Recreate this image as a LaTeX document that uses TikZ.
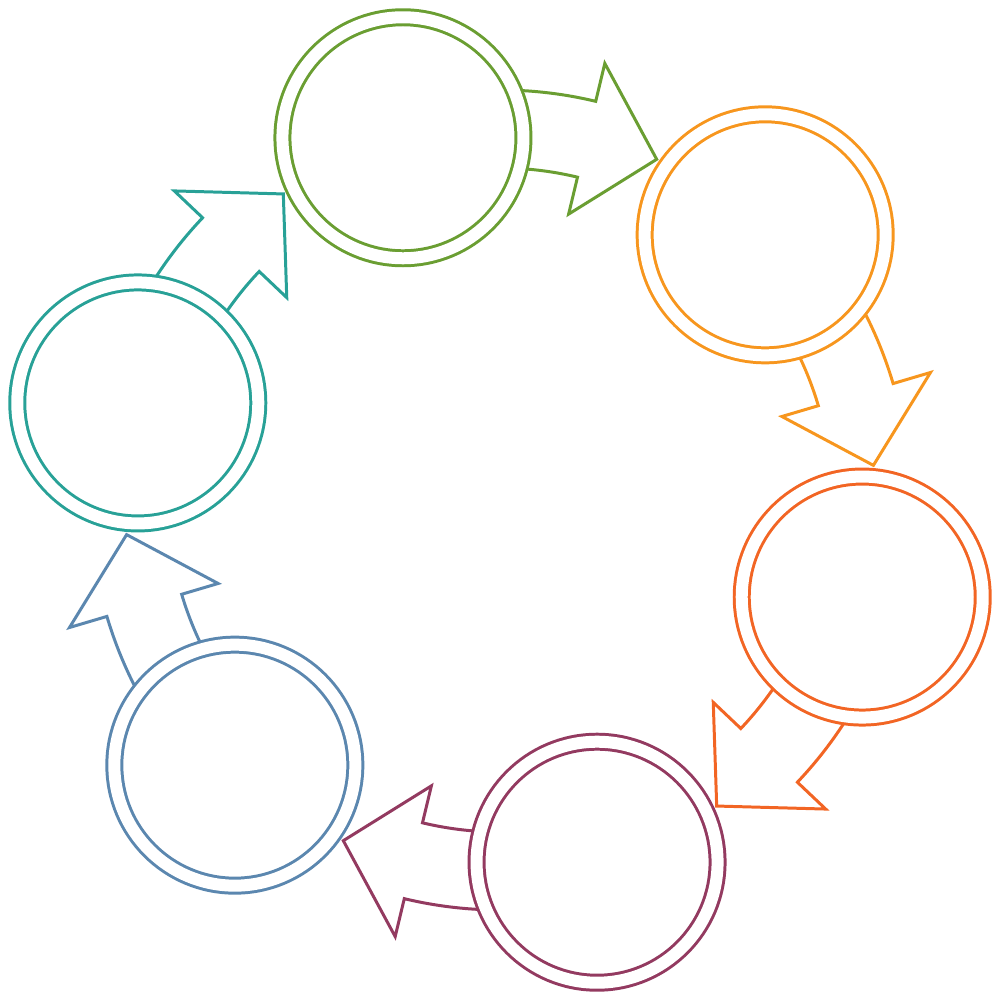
\documentclass[tikz,border=0pt]{standalone}
\definecolor{stepgreen}{HTML}{6A9E32}
\definecolor{steporange}{HTML}{F7961E}
\definecolor{stepred}{HTML}{F26524}
\definecolor{steppurple}{HTML}{933A60}
\definecolor{stepblue}{HTML}{5B87AF}
\definecolor{stepteal}{HTML}{28A197}
\tikzset{ring/.style={circle,draw=#1,double=white,double distance=0.12cm,line width=0.85pt,fill=white,minimum size=2.41cm,inner sep=0pt,outer sep=0pt},
  turn/.style={draw=#1,line width=0.85pt,line join=miter,fill=white}}
\begin{document}
\begin{tikzpicture}
\useasboundingbox (-5,-5) rectangle (5,5);

\draw[turn=stepgreen] (95:4.1) arc[start angle=95,end angle=76.5,radius=4.1] -- (76.5:4.49) -- (65.3:3.75) -- (76.5:2.94) -- (76.5:3.32) arc[start angle=76.5,end angle=95,radius=3.32] -- cycle;
\draw[turn=steporange] (35:4.1) arc[start angle=35,end angle=16.5,radius=4.1] -- (16.5:4.49) -- (5.3:3.75) -- (16.5:2.94) -- (16.5:3.32) arc[start angle=16.5,end angle=35,radius=3.32] -- cycle;
\draw[turn=stepred] (-25:4.1) arc[start angle=-25,end angle=-43.5,radius=4.1] -- (-43.5:4.49) -- (-54.7:3.75) -- (-43.5:2.94) -- (-43.5:3.32) arc[start angle=-43.5,end angle=-25,radius=3.32] -- cycle;
\draw[turn=steppurple] (-85:4.1) arc[start angle=-85,end angle=-103.5,radius=4.1] -- (-103.5:4.49) -- (-114.7:3.75) -- (-103.5:2.94) -- (-103.5:3.32) arc[start angle=-103.5,end angle=-85,radius=3.32] -- cycle;
\draw[turn=stepblue] (-145:4.1) arc[start angle=-145,end angle=-163.5,radius=4.1] -- (-163.5:4.49) -- (-174.7:3.75) -- (-163.5:2.94) -- (-163.5:3.32) arc[start angle=-163.5,end angle=-145,radius=3.32] -- cycle;
\draw[turn=stepteal] (155:4.1) arc[start angle=155,end angle=136.5,radius=4.1] -- (136.5:4.49) -- (125.3:3.75) -- (136.5:2.94) -- (136.5:3.32) arc[start angle=136.5,end angle=155,radius=3.32] -- cycle;

\path (105:3.75) node[ring=stepgreen](green){} (45:3.75) node[ring=steporange](orange){} (-15:3.75) node[ring=stepred](red){} (-75:3.75) node[ring=steppurple](purple){} (-135:3.75) node[ring=stepblue](blue){} (165:3.75) node[ring=stepteal](teal){};
\end{tikzpicture}
\end{document}
